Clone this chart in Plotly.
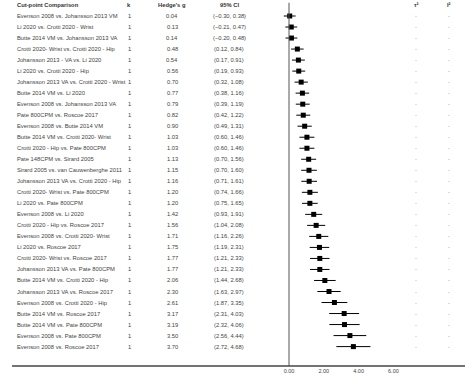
import plotly.graph_objects as go

comparisons = [
    "Evenson 2008 vs. Johansson 2013 VM",
    "Li 2020 vs. Crotti 2020 - Wrist",
    "Butte 2014 VM vs. Johansson 2013 VA",
    "Crotti 2020- Wrist vs. Crotti 2020 - Hip",
    "Johansson 2013 - VA vs. Li 2020",
    "Li 2020 vs. Crotti 2020 - Hip",
    "Johansson 2013 VA vs. Crotti 2020 - Wrist",
    "Butte 2014 VM vs. Li 2020",
    "Evenson 2008 vs. Johansson 2013 VA",
    "Pate 800CPM vs. Roscoe 2017",
    "Evenson 2008 vs. Butte 2014 VM",
    "Butte 2014 VM vs. Crotti 2020- Wrist",
    "Crotti 2020 - Hip vs. Pate 800CPM",
    "Pate 148CPM vs. Sirard 2005",
    "Sirard 2005 vs. van Cauwenberghe 2011",
    "Johansson 2013 VA vs. Crotti 2020 - Hip",
    "Crotti 2020- Wrist vs. Pate 800CPM",
    "Li 2020 vs. Pate 800CPM",
    "Evenson 2008 vs. Li 2020",
    "Crotti 2020 - Hip vs. Roscoe 2017",
    "Evenson 2008 vs. Crotti 2020- Wrist",
    "Li 2020 vs. Roscoe 2017",
    "Crotti 2020- Wrist vs. Roscoe 2017",
    "Johansson 2013 VA vs. Pate 800CPM",
    "Butte 2014 VM vs. Crotti 2020 - Hip",
    "Johansson 2013 VA vs. Roscoe 2017",
    "Evenson 2008 vs. Crotti 2020 - Hip",
    "Butte 2014 VM vs. Roscoe 2017",
    "Butte 2014 VM vs. Pate 800CPM",
    "Evenson 2008 vs. Pate 800CPM",
    "Evenson 2008 vs. Roscoe 2017",
]
k_values = [1] * 31
hedges_g = [0.04, 0.13, 0.14, 0.48, 0.54, 0.56, 0.70, 0.77, 0.79, 0.82, 0.90,
            1.03, 1.03, 1.13, 1.15, 1.16, 1.20, 1.20, 1.42, 1.56, 1.71, 1.75,
            1.77, 1.77, 2.06, 2.30, 2.61, 3.17, 3.19, 3.50, 3.70]
ci_low = [-0.30, -0.21, -0.20, 0.12, 0.17, 0.19, 0.32, 0.38, 0.39, 0.42, 0.49,
          0.60, 0.60, 0.70, 0.70, 0.71, 0.74, 0.75, 0.93, 1.04, 1.16, 1.19,
          1.21, 1.21, 1.44, 1.63, 1.87, 2.31, 2.32, 2.56, 2.72]
ci_high = [0.38, 0.47, 0.48, 0.84, 0.91, 0.93, 1.08, 1.16, 1.19, 1.22, 1.31,
           1.46, 1.46, 1.56, 1.60, 1.61, 1.66, 1.65, 1.91, 2.08, 2.26, 2.31,
           2.33, 2.33, 2.68, 2.97, 3.35, 4.03, 4.06, 4.44, 4.68]
tau2 = ["-"] * 31
i2 = ["-"] * 31
headers = ["Cut-point Comparison", "k", "Hedge's g", "95% CI", "τ²", "I²"]
x_ticks = [0, 2, 4, 6]
x_tick_labels = ["0.00", "2.00", "4.00", "6.00"]

W, H = 474, 376
X0_PX = 289.0
PX_PER_UNIT = 17.4
ROW0_PX = 16.0
ROW_STEP = 11.02
PLOT_H = 366.0

x_range = [-X0_PX / PX_PER_UNIT, (W - X0_PX) / PX_PER_UNIT]
y_range = [(PLOT_H - ROW0_PX) / ROW_STEP, -ROW0_PX / ROW_STEP]

rows = list(range(len(comparisons)))
fig = go.Figure()
fig.add_trace(go.Scatter(
    x=hedges_g, y=rows, mode="markers",
    marker=dict(symbol="square", size=5, color="black"),
    error_x=dict(type="data", symmetric=False,
                 array=[h - g for h, g in zip(ci_high, hedges_g)],
                 arrayminus=[g - l for g, l in zip(hedges_g, ci_low)],
                 color="black", thickness=1, width=0),
    hoverinfo="skip", showlegend=False,
))

font = "Liberation Sans, Arial, sans-serif"
txt = "#444444"
fs = 5.8
anns = []
col_x = [15, 129, 172, 229, 416, 449]
col_anchor = ["left", "center", "center", "center", "center", "center"]
for j, h in enumerate(headers):
    anns.append(dict(x=col_x[j] / W, y=-1, xref="paper", yref="y", text="<b>%s</b>" % h,
                     showarrow=False, xanchor=col_anchor[j], yanchor="middle",
                     font=dict(family=font, size=fs, color="#333333")))
for i in rows:
    ci = "(%s, %s)" % (("%.2f" % ci_low[i]).replace("-", "−"), "%.2f" % ci_high[i])
    vals = [comparisons[i], str(k_values[i]), "%.2f" % hedges_g[i], ci, tau2[i], i2[i]]
    for j, v in enumerate(vals):
        color = "#999999" if j >= 4 else txt
        anns.append(dict(x=col_x[j] / W, y=i, xref="paper", yref="y", text=v,
                         showarrow=False, xanchor=col_anchor[j], yanchor="middle",
                         font=dict(family=font, size=fs, color=color)))

shapes = [
    dict(type="line", xref="x", yref="y", x0=0, x1=0, y0=-1.2, y1=y_range[0],
         line=dict(color="#555555", width=1)),
    dict(type="line", xref="paper", yref="paper", x0=12 / W, x1=465 / W, y0=0, y1=0,
         line=dict(color="#444444", width=1.5)),
]

fig.update_layout(
    width=W, height=H,
    margin=dict(l=0, r=0, t=0, b=H - PLOT_H),
    paper_bgcolor="white", plot_bgcolor="white",
    xaxis=dict(range=x_range, showgrid=False, zeroline=False, showline=False,
               tickvals=x_ticks, ticktext=x_tick_labels, ticks="",
               tickfont=dict(family=font, size=5.5, color="#444444"), fixedrange=True),
    yaxis=dict(range=y_range, showgrid=False, zeroline=False, showline=False,
               showticklabels=False, fixedrange=True),
    annotations=anns, shapes=shapes,
)
fig.write_html("out.html", config={"displayModeBar": False},
               post_script="document.body.style.margin='0';document.body.style.overflow='hidden';")
